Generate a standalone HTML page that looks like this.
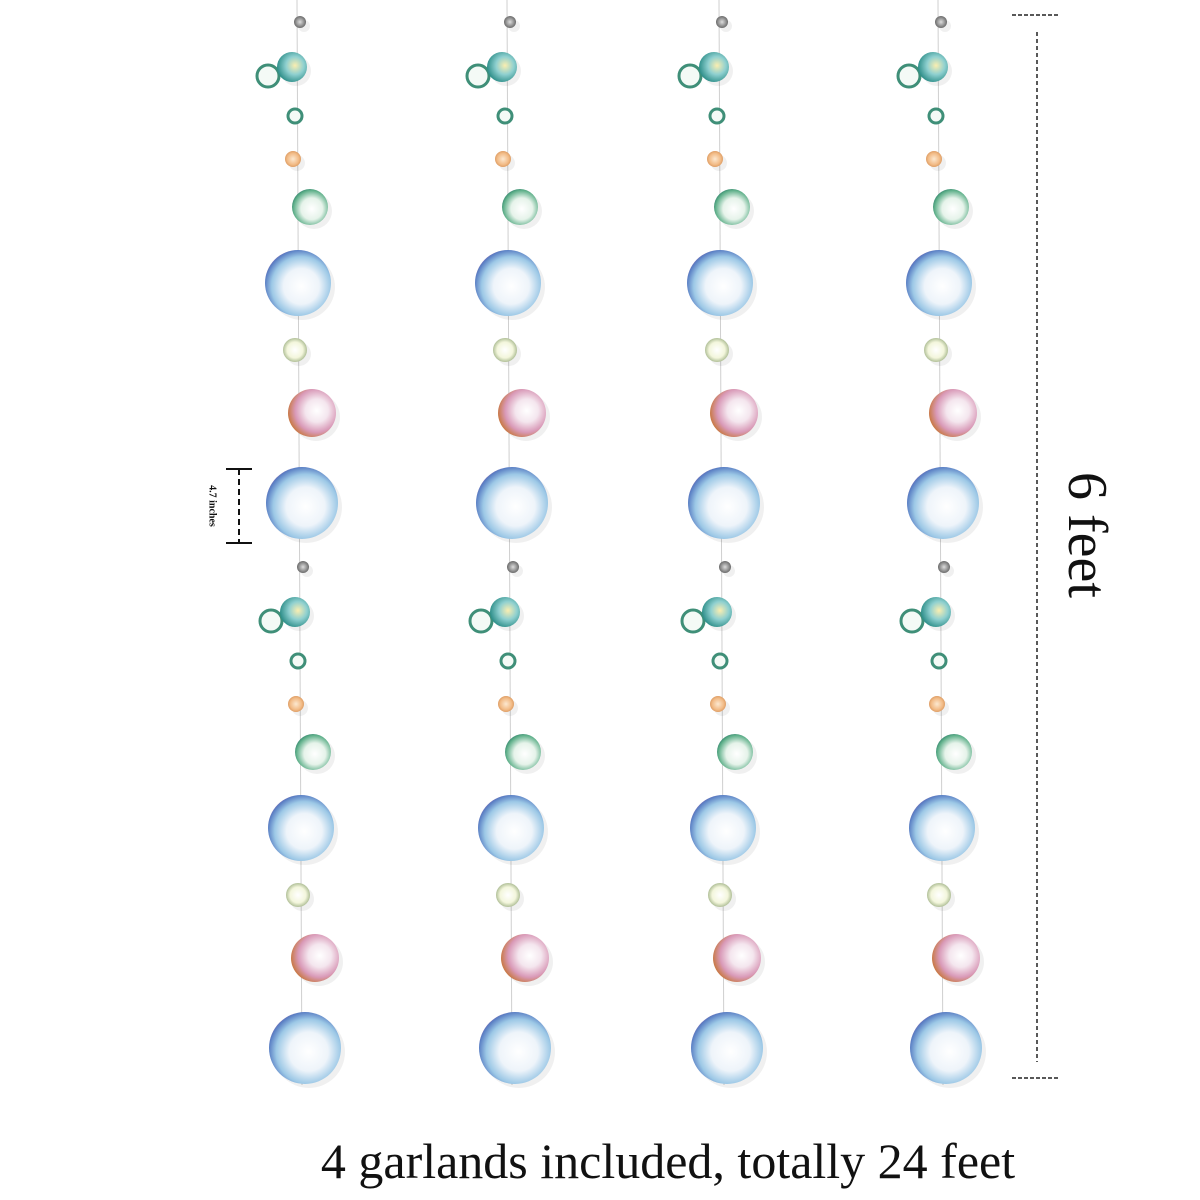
<!DOCTYPE html>
<html><head><meta charset="utf-8"><style>
html,body{margin:0;padding:0;background:#fff;width:1200px;height:1200px;overflow:hidden}
svg{display:block}
text{font-family:"Liberation Serif",serif}
</style></head><body>
<svg id="s" width="1200" height="1200" viewBox="0 0 1200 1200" xmlns="http://www.w3.org/2000/svg">
<defs>
<radialGradient id="gb" cx="55%" cy="55%" r="60%"><stop offset="0" stop-color="#fff"/><stop offset="0.45" stop-color="#eef4fa"/><stop offset="0.75" stop-color="#9cc8e6"/><stop offset="0.92" stop-color="#5a7fc4"/><stop offset="1" stop-color="#8a5fa8"/></radialGradient>
<radialGradient id="gp" cx="60%" cy="45%" r="60%"><stop offset="0" stop-color="#fff"/><stop offset="0.4" stop-color="#f4e6ee"/><stop offset="0.75" stop-color="#d99ab8"/><stop offset="1" stop-color="#c97a4a"/></radialGradient>
<radialGradient id="gg" cx="55%" cy="55%" r="60%"><stop offset="0" stop-color="#fff"/><stop offset="0.5" stop-color="#e6f3ea"/><stop offset="0.85" stop-color="#5fb08a"/><stop offset="1" stop-color="#2e7d6a"/></radialGradient>
<radialGradient id="gy" cx="50%" cy="50%" r="60%"><stop offset="0" stop-color="#fff"/><stop offset="0.55" stop-color="#f3f6dc"/><stop offset="1" stop-color="#8aa070"/></radialGradient>
<radialGradient id="go" cx="50%" cy="50%" r="60%"><stop offset="0" stop-color="#fce8d0"/><stop offset="0.6" stop-color="#f2bb86"/><stop offset="1" stop-color="#d08a50"/></radialGradient>
<radialGradient id="gt" cx="60%" cy="45%" r="60%"><stop offset="0" stop-color="#fbeeb0"/><stop offset="0.5" stop-color="#8fd0d0"/><stop offset="1" stop-color="#2f8f8a"/></radialGradient>
<radialGradient id="gd" cx="50%" cy="50%" r="60%"><stop offset="0" stop-color="#ddd"/><stop offset="1" stop-color="#555"/></radialGradient>
</defs>
<g id="g"></g>
<line x1="1012" y1="15" x2="1060" y2="15" stroke="#222" stroke-width="1.5" stroke-dasharray="4,2"/>
<line x1="1037" y1="32" x2="1037" y2="1062" stroke="#222" stroke-width="1.5" stroke-dasharray="4,3"/>
<line x1="1012" y1="1078" x2="1060" y2="1078" stroke="#222" stroke-width="1.5" stroke-dasharray="4,2"/>
<text x="1082" y="535" font-size="56" transform="rotate(90 1082 535)" text-anchor="middle" dominant-baseline="middle" fill="#111">6 feet</text>
<text x="668" y="1178" font-size="50" text-anchor="middle" fill="#111">4 garlands included, totally 24 feet</text>
<line x1="226" y1="469" x2="252" y2="469" stroke="#111" stroke-width="2"/>
<line x1="226" y1="543" x2="252" y2="543" stroke="#111" stroke-width="2"/>
<line x1="239" y1="469" x2="239" y2="543" stroke="#111" stroke-width="2" stroke-dasharray="6,4"/>
<text x="212" y="506" font-size="10" font-weight="bold" transform="rotate(90 212 506)" text-anchor="middle" dominant-baseline="middle" fill="#111">4.7 inches</text>
</svg>
<script>
var g=document.getElementById('g'),h='';
var cols=[297,507,719,938];
var items=[[3,22,6,'gd'],[-29,76,11,'ring'],[-5,67,15,'gt'],[-2,116,7,'ringg'],[-4,159,8,'go'],[13,207,18,'gg'],[1,283,33,'gb'],[-2,350,12,'gy'],[15,413,24,'gp'],[5,503,36,'gb']];
cols.forEach(function(x,ci){
 h+='<line x1="'+x+'" y1="0" x2="'+(x+5)+'" y2="1085" stroke="#cfcfcf" stroke-width="1"/>';
 [0,545].forEach(function(dy,k){
  items.forEach(function(it){
   var cx=x+it[0]+k*3,cy=it[1]+dy,r=it[2];
   if(it[3]=='ring'||it[3]=='ringg'){
    h+='<circle cx="'+cx+'" cy="'+cy+'" r="'+r+'" fill="#f4faf6" stroke="#3f8f78" stroke-width="3"/>';
   }else{
    h+='<circle cx="'+(cx+4)+'" cy="'+(cy+4)+'" r="'+r+'" fill="#000" opacity="0.06"/>';
    h+='<circle cx="'+cx+'" cy="'+cy+'" r="'+r+'" fill="url(#'+it[3]+')"/>';
   }
  });
 });
});
g.innerHTML=h;
</script>
</body></html>
